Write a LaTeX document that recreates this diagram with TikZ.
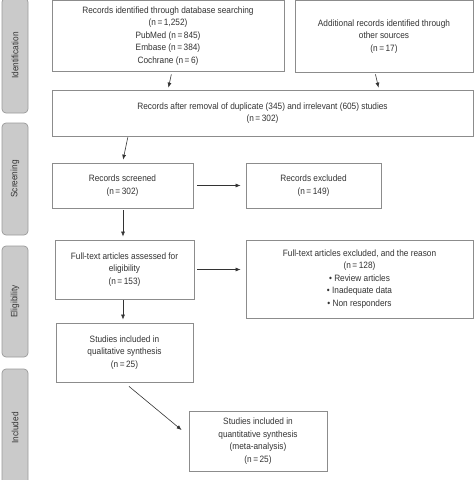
\documentclass[tikz,border=0pt]{standalone}
\usepackage{fontspec}
\setmainfont[FakeStretch=0.9]{Liberation Sans}
\usetikzlibrary{arrows.meta}
\definecolor{txtc}{HTML}{333333}
\definecolor{bordc}{HTML}{8C8C8C}
\definecolor{sidefill}{HTML}{CACACA}
\definecolor{sidebord}{HTML}{9A9A9A}
\definecolor{arrc}{HTML}{333333}
\begin{document}
\begin{tikzpicture}[x=1pt,y=-1pt,
  box/.style={draw=bordc, line width=0.8pt, fill=white, text=txtc, align=center, inner sep=0pt,
    font=\fontsize{9.2}{12.5}\selectfont},
  side/.style={draw=sidebord, fill=sidefill, rounded corners=4pt, line width=0.7pt, text=txtc,
    inner sep=0pt, font=\fontsize{9.2}{10}\selectfont, rotate=90},
  arr/.style={draw=arrc, line width=0.6pt, -{Latex[length=5pt,width=4pt]}}]
\useasboundingbox (0,0) rectangle (474,480);
% side bars
\node[side, minimum width=115pt, minimum height=26pt] (s1) at (15,55.5) {Identification};
\node[side, minimum width=112pt, minimum height=26pt] (s2) at (15,179) {Screening};
\node[side, minimum width=111pt, minimum height=26pt] (s3) at (15,301.5) {Eligibility};
\node[side, minimum width=118pt, minimum height=26pt] (s4) at (15,428) {Included};
% boxes
\node[box, minimum width=232pt, minimum height=70.5pt] (b1) at (168,35.75)
  {Records identified through database searching\\(n\,=\,1,252)\\PubMed (n\,=\,845)\\Embase (n\,=\,384)\\Cochrane (n\,=\,6)};
\node[box, minimum width=178pt, minimum height=71.5pt] (b2) at (384,36.25)
  {Additional records identified through\\other sources\\(n\,=\,17)};
\node[box, minimum width=421pt, minimum height=46pt] (b3) at (262.5,113)
  {Records after removal of duplicate (345) and irrelevant (605) studies\\(n\,=\,302)};
\node[box, minimum width=141pt, minimum height=45pt] (b4) at (122.5,185.5)
  {Records screened\\(n\,=\,302)};
\node[box, minimum width=135pt, minimum height=45pt] (b5) at (313.5,185.5)
  {Records excluded\\(n\,=\,149)};
\node[box, minimum width=139pt, minimum height=59pt] (b6) at (124.5,269.5)
  {Full-text articles assessed for\\eligibility\\(n\,=\,153)};
\node[box, minimum width=227pt, minimum height=78pt] (b7) at (359.5,279)
  {Full-text articles excluded, and the reason\\(n\,=\,128)\\• Review articles\\• Inadequate data\\• Non responders};
\node[box, minimum width=137pt, minimum height=59pt] (b8) at (124.5,352.5)
  {Studies included in\\qualitative synthesis\\(n\,=\,25)};
\node[box, minimum width=138pt, minimum height=60pt] (b9) at (258,441)
  {Studies included in\\quantitative synthesis\\(meta-analysis)\\(n\,=\,25)};
% arrows
\draw[arr, shorten <=3pt, shorten >=2pt] ([xshift=4pt]b1.south) -- ([xshift=-94.5pt]b3.north);
\draw[arr, shorten <=2pt, shorten >=2pt] ([xshift=-9pt]b2.south) -- ([xshift=116.5pt]b3.north);
\draw[arr, shorten <=1pt, shorten >=3pt] ([xshift=-134.5pt]b3.south) -- (b4.north);
\draw[arr, shorten <=4pt, shorten >=5pt] (b4.east) -- (b5.west);
\draw[arr, shorten <=2pt, shorten >=3pt] ([xshift=0.5pt]b4.south) -- ([xshift=0.5pt]b4.south |- b6.north);
\draw[arr, shorten <=3pt, shorten >=5pt] (b6.east) -- (b7.west |- b6.east);
\draw[arr, shorten <=1pt, shorten >=3pt] ([xshift=-1.5pt]b6.south) -- ([xshift=-1.5pt]b8.north);
\draw[arr] ([shift={(4.5pt,-4pt)}]b8.south) -- ([shift={(-7pt,11pt)}]b9.west);
\end{tikzpicture}
\end{document}
